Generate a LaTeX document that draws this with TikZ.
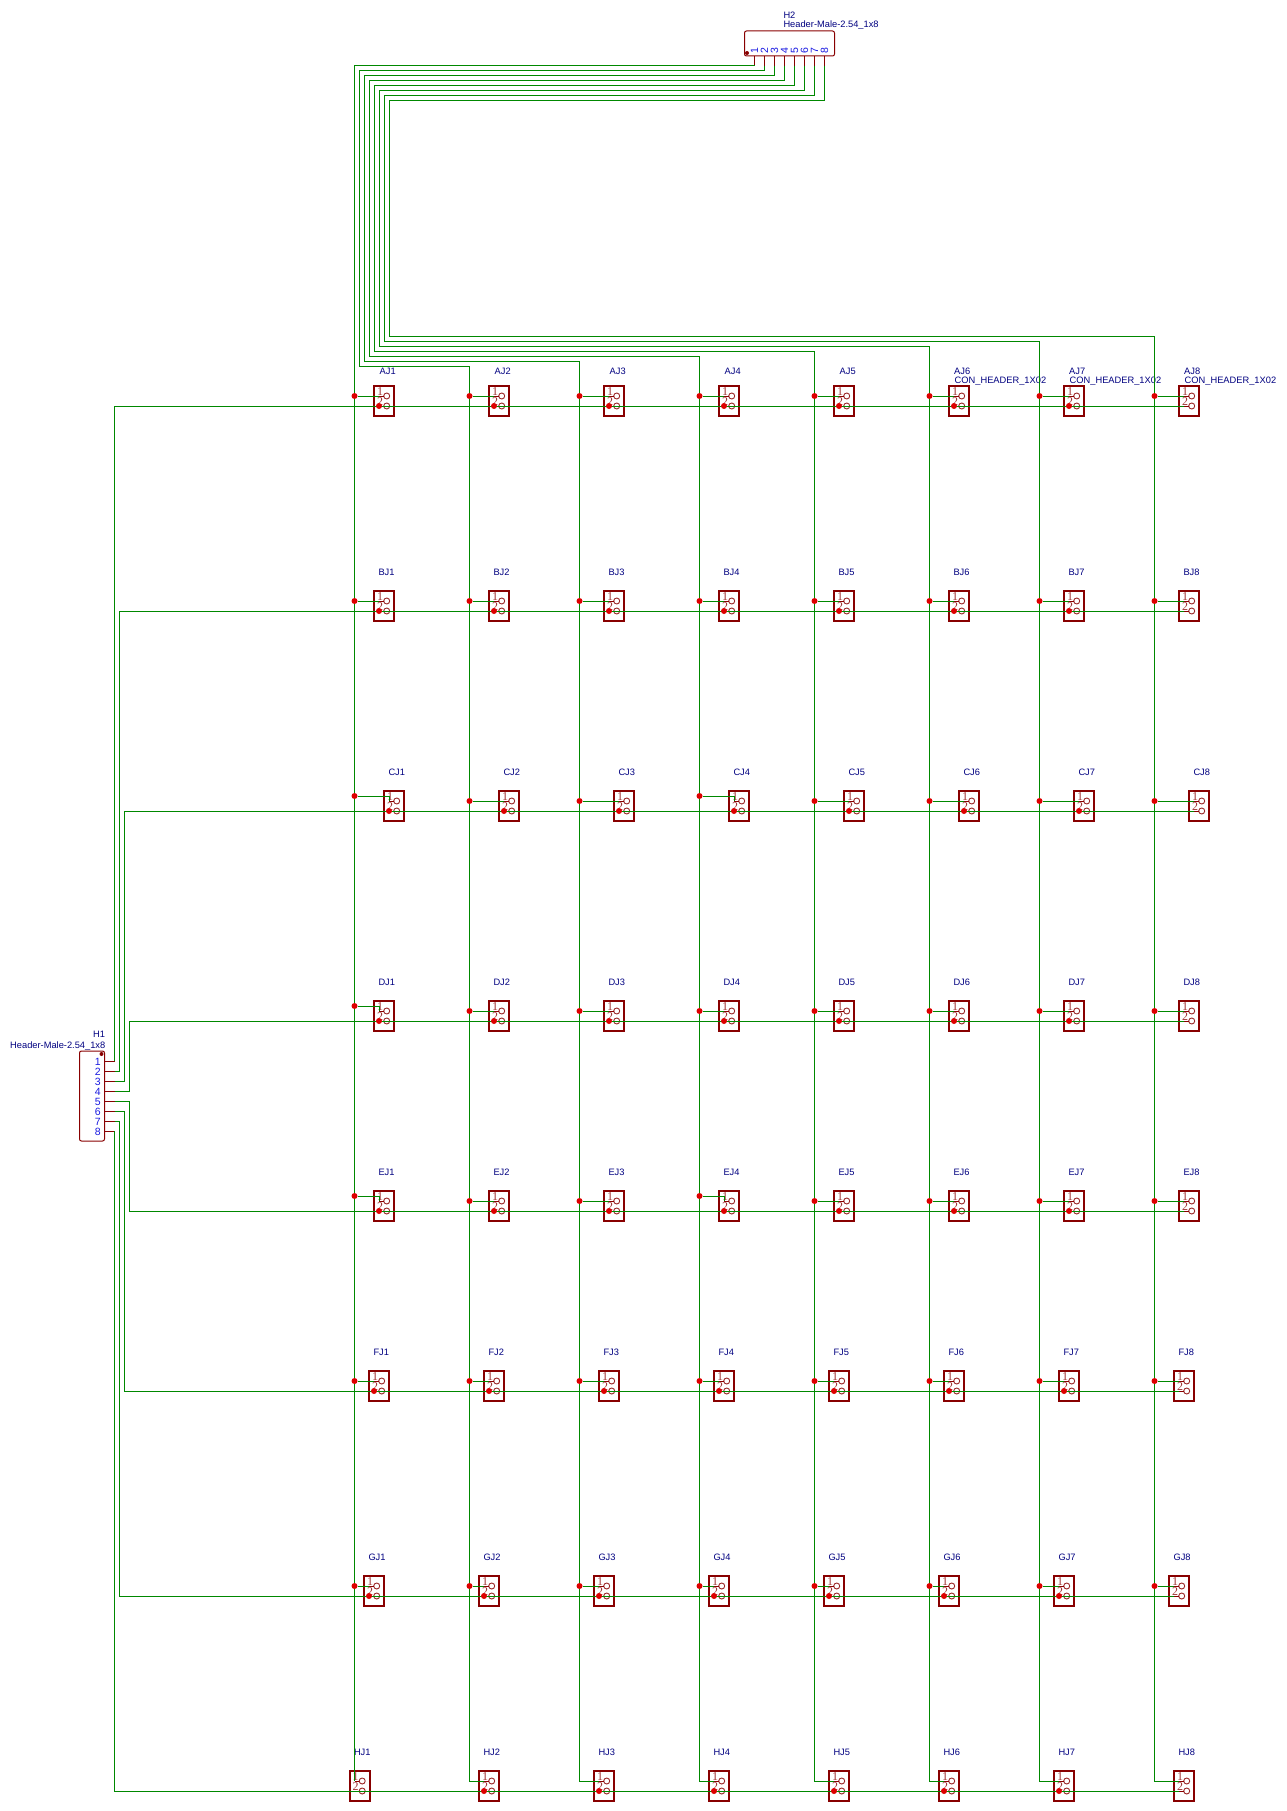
\documentclass[tikz,border=0pt]{standalone}
\usepackage{fontspec}
\setmainfont{Liberation Sans}
\newfontfamily\pinfont{Liberation Serif}
\usetikzlibrary{arrows.meta}
\pgfdeclarelayer{dots}
\pgfsetlayers{main,dots}
\definecolor{wirecol}{HTML}{008800}
\definecolor{partcol}{HTML}{880000}
\definecolor{dotcol}{HTML}{DD0000}
\definecolor{textcol}{HTML}{000080}
\definecolor{numcol}{HTML}{1A1AE0}
\tikzset{
  wire/.style={draw=wirecol, line width=1pt},
  pinline/.style={draw=partcol, line width=1pt},
  conbox/.style={rectangle, draw=partcol, line width=2pt, anchor=north west, minimum width=20pt, minimum height=30pt, inner sep=0pt, outer sep=0pt},
  headerbox/.style={rectangle, draw=partcol, line width=1pt, rounded corners=2pt, anchor=north west, inner sep=0pt, outer sep=0pt},
  pinhole/.style={circle, draw=partcol!85!white, line width=0.9pt, minimum size=6pt, inner sep=0pt, outer sep=0pt},
  wiredot/.style={circle, fill=dotcol, minimum size=6pt, inner sep=0pt, outer sep=0pt},
  headerdot/.style={circle, fill=partcol, minimum size=4pt, inner sep=0pt, outer sep=0pt},
  pinnum/.style={text=partcol!80!white, font=\pinfont\fontsize{12}{12}\selectfont, inner sep=0pt},
  conlabel/.style={text=textcol, font=\fontsize{9.3}{10}\selectfont, anchor=base west, inner sep=0pt},
  headernum/.style={text=numcol, font=\fontsize{10.5}{11}\selectfont, inner sep=0pt}
}
\newcommand{\conlabelx}{4.3}
\newcommand{\conlabely}{-16}
\newcommand{\schbody}[2] {
  \node [conbox] (#2) at (#1) {};
  \coordinate (#2p1) at ([shift={(#1)}]5,10);
  \coordinate (#2p2) at ([shift={(#1)}]5,20);
  \node [pinhole] (#2c1) at ([shift={(#1)}]12.7,10) {};
  \node [pinhole] (#2c2) at ([shift={(#1)}]12.7,20) {};
  \draw [pinline] (#2p1) -- (#2c1);
  \draw [pinline] (#2p2) -- (#2c2);
  \node [pinnum] (#2n1) at ([shift={(#1)}]6,5.2) {1};
  \node [pinnum] (#2n2) at ([shift={(#1)}]6,15.2) {2};
  \node [conlabel] (#2v) at ([shift={(#1)}]\conlabelx,\conlabely) {#2};}
\newcommand{\schtap}[2] {\begin{pgfonlayer}{dots}\node [wiredot] (#2t) at (#1) {};\end{pgfonlayer} \draw [wire] (#2t) -| (#2p1);}
\newcommand{\schdot}[1] {\begin{pgfonlayer}{dots}\node [wiredot] (#1d) at (#1p2) {};\end{pgfonlayer}}
\newcommand{\schconn}[3] {\schbody{#1}{#2} \schtap{#3}{#2} \schdot{#2}}
\newcommand{\schconnlast}[3] {\schbody{#1}{#2} \schtap{#3}{#2}}
\newcommand{\schconnfoot}[2] {\schbody{#1}{#2} \schdot{#2}}
\newcommand{\toppin}[2] {
  \coordinate (H2p#1) at (#2,66);
  \draw [pinline] (H2.south -| H2p#1) -- (H2p#1);
  \node [headernum, rotate=90] (H2n#1) at (#2,50.5) {#1};}
\newcommand{\leftpin}[2] {
  \coordinate (H1p#1) at (114.5,#2);
  \draw [pinline] (H1.east |- H1p#1) -- (H1p#1);
  \node [headernum, anchor=east] (H1n#1) at ([yshift=-1pt]101,#2) {#1};}
\newcommand{\colnet}[6] {\draw [wire] (#1) |- (#2,#3) |- (#4,#5) |- (#6);}
\newcommand{\rownet}[3] {\draw [wire] (#1) -- ++(#2,0) |- (#3);}

\begin{document}
\begin{tikzpicture}[x=1pt,y=-1pt]
\useasboundingbox (0,0) rectangle (1286,1811);

% headers
\node [headerbox, minimum width=90pt, minimum height=25pt] (H2) at (744.5,31) {};
\node [headerdot] (H2d) at (747,53) {};
\node [conlabel] (H2v) at (783.3,18.7) {H2};
\node [conlabel] (H2m) at (783.3,28) {Header-Male-2.54\_1x8};
\toppin{1}{754.5};
\toppin{2}{764.5};
\toppin{3}{774.5};
\toppin{4}{784.5};
\toppin{5}{794.5};
\toppin{6}{804.5};
\toppin{7}{814.5};
\toppin{8}{824.5};

\node [headerbox, minimum width=25pt, minimum height=90pt] (H1) at (79.5,1051) {};
\node [headerdot] (H1d) at (101.5,1054) {};
\node [conlabel] (H1v) at (93,1037.3) {H1};
\node [conlabel] (H1m) at (10,1048.3) {Header-Male-2.54\_1x8};
\leftpin{1}{1061};
\leftpin{2}{1071};
\leftpin{3}{1081};
\leftpin{4}{1091};
\leftpin{5}{1101};
\leftpin{6}{1111};
\leftpin{7}{1121};
\leftpin{8}{1131};

% row A
\renewcommand{\conlabelx}{5.5}
\renewcommand{\conlabely}{-12}
\schconn {374,386} {AJ1} {354.5,396};
\schconn {489,386} {AJ2} {469.5,396};
\schconn {604,386} {AJ3} {579.5,396};
\schconn {719,386} {AJ4} {699.5,396};
\schconn {834,386} {AJ5} {814.5,396};
\renewcommand{\conlabelx}{5}
\schconn {949,386} {AJ6} {929.5,396};
\schconn {1064,386} {AJ7} {1039.5,396};
\schconnlast {1179,386} {AJ8} {1154.5,396};
\node [conlabel] (AJ6m) at (954.5,383) {CON\_HEADER\_1X02};
\node [conlabel] (AJ7m) at (1069.5,383) {CON\_HEADER\_1X02};
\node [conlabel] (AJ8m) at (1184.5,383) {CON\_HEADER\_1X02};
\renewcommand{\conlabelx}{4.3}
\renewcommand{\conlabely}{-16}

% row B
\schconn {374,591} {BJ1} {354.5,601};
\schconn {489,591} {BJ2} {469.5,601};
\schconn {604,591} {BJ3} {579.5,601};
\schconn {719,591} {BJ4} {699.5,601};
\schconn {834,591} {BJ5} {814.5,601};
\schconn {949,591} {BJ6} {929.5,601};
\schconn {1064,591} {BJ7} {1039.5,601};
\schconnlast {1179,591} {BJ8} {1154.5,601};

% row C
\schconn {384,791} {CJ1} {354.5,796};
\schconn {499,791} {CJ2} {469.5,801};
\schconn {614,791} {CJ3} {579.5,801};
\schconn {729,791} {CJ4} {699.5,796};
\schconn {844,791} {CJ5} {814.5,801};
\schconn {959,791} {CJ6} {929.5,801};
\schconn {1074,791} {CJ7} {1039.5,801};
\schconnlast {1189,791} {CJ8} {1154.5,801};

% row D
\schconn {374,1001} {DJ1} {354.5,1006};
\schconn {489,1001} {DJ2} {469.5,1011};
\schconn {604,1001} {DJ3} {579.5,1011};
\schconn {719,1001} {DJ4} {699.5,1011};
\schconn {834,1001} {DJ5} {814.5,1011};
\schconn {949,1001} {DJ6} {929.5,1011};
\schconn {1064,1001} {DJ7} {1039.5,1011};
\schconnlast {1179,1001} {DJ8} {1154.5,1011};

% row E
\schconn {374,1191} {EJ1} {354.5,1196};
\schconn {489,1191} {EJ2} {469.5,1201};
\schconn {604,1191} {EJ3} {579.5,1201};
\schconn {719,1191} {EJ4} {699.5,1196};
\schconn {834,1191} {EJ5} {814.5,1201};
\schconn {949,1191} {EJ6} {929.5,1201};
\schconn {1064,1191} {EJ7} {1039.5,1201};
\schconnlast {1179,1191} {EJ8} {1154.5,1201};

% row F
\schconn {369,1371} {FJ1} {354.5,1381};
\schconn {484,1371} {FJ2} {469.5,1381};
\schconn {599,1371} {FJ3} {579.5,1381};
\schconn {714,1371} {FJ4} {699.5,1381};
\schconn {829,1371} {FJ5} {814.5,1381};
\schconn {944,1371} {FJ6} {929.5,1381};
\schconn {1059,1371} {FJ7} {1039.5,1381};
\schconnlast {1174,1371} {FJ8} {1154.5,1381};

% row G
\schconn {364,1576} {GJ1} {354.5,1586};
\schconn {479,1576} {GJ2} {469.5,1586};
\schconn {594,1576} {GJ3} {579.5,1586};
\schconn {709,1576} {GJ4} {699.5,1586};
\schconn {824,1576} {GJ5} {814.5,1586};
\schconn {939,1576} {GJ6} {929.5,1586};
\schconn {1054,1576} {GJ7} {1039.5,1586};
\schconnlast {1169,1576} {GJ8} {1154.5,1586};

% row H, columns end here
\schbody {349.5,1771} {HJ1};
\schconnfoot {479,1771} {HJ2};
\schconnfoot {594,1771} {HJ3};
\schconnfoot {709,1771} {HJ4};
\schconnfoot {829,1771} {HJ5};
\schconnfoot {939,1771} {HJ6};
\schconnfoot {1054,1771} {HJ7};
\schbody {1174,1771} {HJ8};

% column nets
\draw [wire] (H2p1) -| (HJ1p1);
\colnet{H2p2}{359.5}{71}{469.5}{366}{HJ2p1};
\colnet{H2p3}{364.5}{76}{579.5}{361}{HJ3p1};
\colnet{H2p4}{369.5}{81}{699.5}{356}{HJ4p1};
\colnet{H2p5}{374.5}{86}{814.5}{351}{HJ5p1};
\colnet{H2p6}{379.5}{91}{929.5}{346}{HJ6p1};
\colnet{H2p7}{384.5}{96}{1039.5}{341}{HJ7p1};
\colnet{H2p8}{389.5}{101}{1154.5}{336}{HJ8p1};

% row nets
\rownet{H1p1}{0}{AJ8p2};
\rownet{H1p2}{5}{BJ8p2};
\rownet{H1p3}{10}{CJ8p2};
\rownet{H1p4}{15}{DJ8p2};
\rownet{H1p5}{15}{EJ8p2};
\rownet{H1p6}{10}{FJ8p2};
\rownet{H1p7}{5}{GJ8p2};
\rownet{H1p8}{0}{HJ8p2};
\end{tikzpicture}
\end{document}
